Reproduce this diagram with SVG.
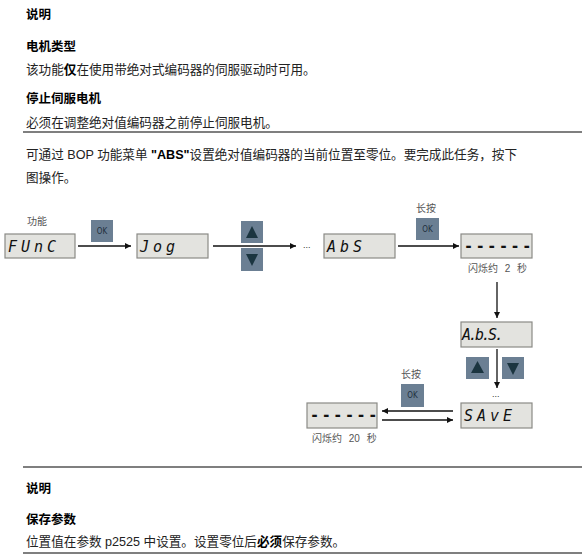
<svg xmlns="http://www.w3.org/2000/svg" width="582" height="557" viewBox="0 0 582 557">
<defs>
<marker id="ah" viewBox="0 0 10 10" refX="10" refY="5" markerWidth="8" markerHeight="6" markerUnits="userSpaceOnUse" orient="auto">
<path d="M0,0 L10,5 L0,10 z" fill="#111"/>
</marker>
</defs>
<style>
text{font-family:"Liberation Sans","Noto Sans CJK SC",sans-serif;}
.h{font-size:12.5px;font-weight:bold;fill:#000;}
.b{font-size:12.6px;fill:#222;}
.s{font-size:10px;fill:#555;word-spacing:4px;}
.rule{stroke:#000;stroke-width:1.2;}
.disp{fill:#e3e3df;stroke:#8a8a86;stroke-width:1.2;}
.seg{font-family:"DejaVu Sans Mono",monospace;font-size:15px;font-style:italic;font-weight:normal;fill:#111;letter-spacing:4px;}
.dash{font-family:"DejaVu Sans Mono",monospace;font-size:15px;font-weight:bold;fill:#111;letter-spacing:2.6px;}
.btn{fill:#6b7f93;}
.ok{font-family:"DejaVu Sans Condensed","Liberation Sans",sans-serif;font-size:8px;fill:#1f2f3d;}
.tri{fill:#1b3540;}
.con{stroke:#111;stroke-width:1.3;fill:none;marker-end:url(#ah);}
</style>

<g id="text-top">
<text class="h" x="26" y="19">说明</text>
<text class="h" x="26" y="51">电机类型</text>
<text class="b" x="26" y="74">该功能<tspan font-weight="bold" fill="#000">仅</tspan>在使用带绝对式编码器的伺服驱动时可用。</text>
<text class="h" x="26" y="103">停止伺服电机</text>
<text class="b" x="26" y="127">必须在调整绝对值编码器之前停止伺服电机。</text>
<line class="rule" x1="23" y1="132" x2="582" y2="132"/>
<text class="b" x="26" y="159">可通过 BOP 功能菜单 <tspan font-weight="bold" fill="#000">"ABS"</tspan>设置绝对值编码器的当前位置至零位。要完成此任务，按下</text>
<text class="b" x="26" y="182">图操作。</text>
</g>

<g id="connectors">
<line class="con" x1="78" y1="246" x2="131" y2="246"/>
<line class="con" x1="213" y1="246" x2="296" y2="246"/>
<line class="con" x1="398" y1="246" x2="459" y2="246"/>
<line class="con" x1="497" y1="282" x2="497" y2="318"/>
<line class="con" x1="497" y1="349" x2="497" y2="388"/>
<line class="con" x1="453" y1="411" x2="382" y2="411"/>
<line class="con" x1="382" y1="420" x2="453" y2="420"/>
</g>

<g id="n-func">
<text class="s" x="27" y="225">功能</text>
<rect class="disp" x="5" y="234" width="70" height="24"/>
<text class="seg" x="8" y="252">FUnC</text>
</g>
<g id="btn-ok1">
<rect class="btn" x="91" y="220" width="22" height="22"/>
<text class="ok" x="102" y="234" text-anchor="middle">OK</text>
</g>
<g id="n-jog">
<rect class="disp" x="137" y="234" width="71" height="24"/>
<text class="seg" x="140" y="252">Jog</text>
</g>
<g id="btn-updown1">
<rect class="btn" x="241" y="221" width="22" height="22"/>
<path class="tri" d="M246,238 L252,226 L258,238 z"/>
<rect class="btn" x="241" y="248" width="22" height="23"/>
<path class="tri" d="M246,254 L258,254 L252,266 z"/>
</g>
<text id="dots1" x="303" y="248" font-size="9" fill="#333">...</text>
<g id="n-abs">
<rect class="disp" x="324" y="234" width="71" height="24"/>
<text class="seg" x="327" y="252">AbS</text>
</g>
<g id="btn-ok2">
<text class="s" x="416" y="212">长按</text>
<rect class="btn" x="416" y="218" width="23" height="22"/>
<text class="ok" x="427.5" y="232" text-anchor="middle">OK</text>
</g>
<g id="n-dash1">
<rect class="disp" x="461" y="234" width="71" height="24"/>
<text class="dash" x="464" y="251">------</text>
<text class="s" x="468" y="272">闪烁约 2 秒</text>
</g>
<g id="n-abs2">
<rect class="disp" x="461" y="322" width="71" height="25"/>
<text class="seg" x="462" y="340" style="letter-spacing:-2.5px">A.b.S.</text>
</g>
<g id="btn-updown2">
<rect class="btn" x="466" y="357" width="23" height="22"/>
<path class="tri" d="M471,373 L477.5,361 L484,373 z"/>
<rect class="btn" x="502" y="357" width="22" height="22"/>
<path class="tri" d="M507,363 L519,363 L513,375 z"/>
</g>
<text id="dots2" x="492" y="397" font-size="9" fill="#333">...</text>
<g id="n-save">
<rect class="disp" x="461" y="403" width="71" height="25"/>
<text class="seg" x="464" y="421">SAvE</text>
</g>
<g id="btn-ok3">
<text class="s" x="401" y="378">长按</text>
<rect class="btn" x="401" y="384" width="23" height="23"/>
<text class="ok" x="412.5" y="398" text-anchor="middle">OK</text>
</g>
<g id="n-dash2">
<rect class="disp" x="307" y="403" width="70" height="25"/>
<text class="dash" x="310" y="420">------</text>
<text class="s" x="312" y="442">闪烁约 20 秒</text>
</g>

<g id="text-bottom">
<line class="rule" x1="23" y1="467" x2="582" y2="467"/>
<text class="h" x="26" y="493">说明</text>
<text class="h" x="26" y="524">保存参数</text>
<text class="b" x="26" y="546">位置值在参数 p2525 中设置。设置零位后<tspan font-weight="bold" fill="#000">必须</tspan>保存参数。</text>
<line class="rule" x1="23" y1="553" x2="582" y2="553"/>
</g>
</svg>
